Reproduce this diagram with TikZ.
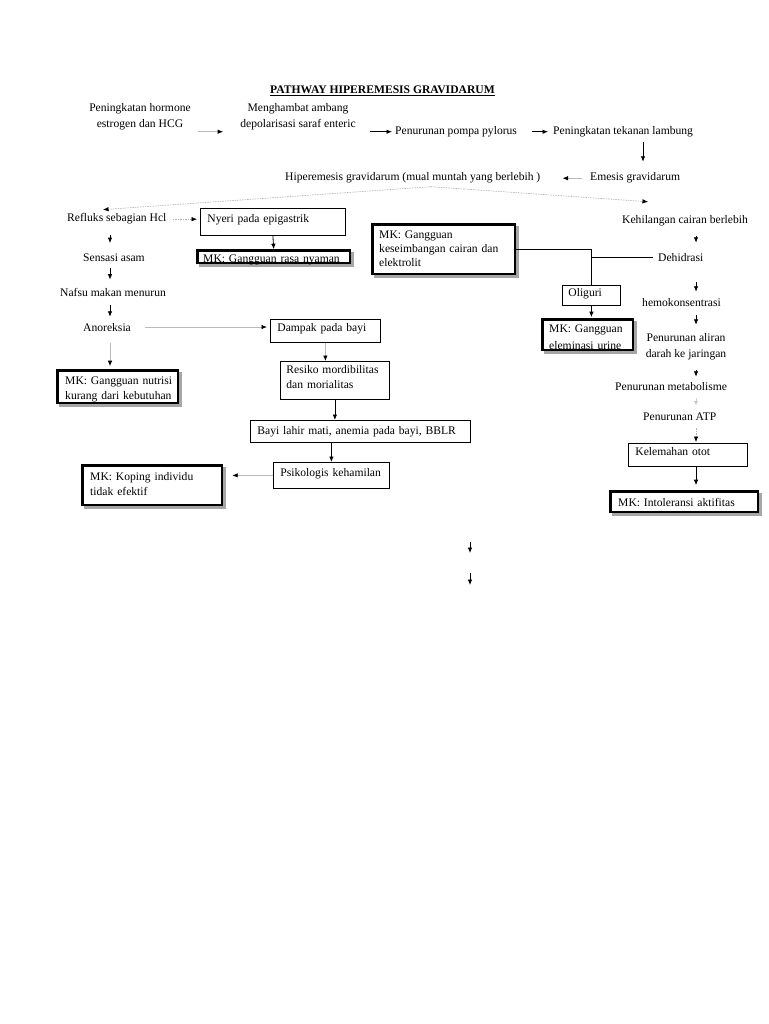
\documentclass[tikz,border=0pt]{standalone}
\usepackage{fontspec}
\setmainfont{Liberation Serif}
\usetikzlibrary{arrows.meta,shadows}
\newcommand{\dgfont}{\fontsize{11.6pt}{15pt}\selectfont}
\newcommand{\dgfontb}{\fontsize{11.6pt}{16.5pt}\selectfont}
\newcommand{\dgfontc}{\fontsize{11.6pt}{14pt}\selectfont}
\newcommand{\dgfontd}{\fontsize{11.6pt}{17pt}\selectfont}
\begin{document}
\begin{tikzpicture}[x=1pt,y=-1pt,
  txt/.style={inner sep=0pt, font=\dgfont},
  mtxt/.style={inner sep=0pt, font=\dgfontb, align=center},
  bx/.style={draw=black, line width=0.8pt, inner ysep=0pt, anchor=north west, align=left, font=\dgfont},
  mk/.style={bx, line width=2.4pt, fill=white,
    drop shadow={shadow xshift=2.6pt, shadow yshift=-2.6pt, fill=gray!70, draw=gray!70, line width=2.4pt, opacity=1}},
  dim/.style n args={4}{text width=#1pt, inner xsep=#2pt, text height=#3pt, text depth=#4pt},
  barr/.style={draw=black, line width=0.8pt, -{Latex[length=5.5pt,width=4.5pt]}},
  garr/.style={draw=gray!55, line width=0.8pt, -{Latex[length=5.5pt,width=4.5pt,color=black]}},
  darr/.style={draw=gray!60, line width=0.6pt, dash pattern=on 1.5pt off 1pt, -{Latex[length=5.5pt,width=4.5pt,color=black]}},
  farr/.style={draw=gray!35, line width=0.6pt, -{Latex[length=4pt,width=4pt,color=gray!45]}},
  conn/.style={draw=black, line width=0.8pt},
]
\fill[white] (0,0) rectangle (768,1024);
\useasboundingbox (0,0) rectangle (768,1024);

% column coordinates
\coordinate (cL) at (110,0);
\coordinate (cR) at (696,0);
\coordinate (cA) at (643,0);

% title
\node[txt, anchor=base west, font=\dgfont\bfseries] (title) at (270,94) {\underline{PATHWAY HIPEREMESIS GRAVIDARUM}};

% top row
\node[mtxt] (t1) at (140,116.5) {Peningkatan hormone\\estrogen dan HCG};
\node[mtxt] (t2) at (298,116.5) {Menghambat ambang\\depolarisasi saraf enteric};
\node[txt, anchor=base west] (t3) at (395,134.5) {Penurunan pompa pylorus};
\node[txt, anchor=base west] (t4) at (553,134.5) {Peningkatan tekanan lambung};
\node[txt, anchor=base west] (t5) at (590,181) {Emesis gravidarum};
\node[txt, anchor=base west] (t6) at (285,181) {Hiperemesis gravidarum (mual muntah yang berlebih )};

% left column
\node[txt, anchor=base west] (refl) at (67,222) {Refluks sebagian Hcl};
\node[txt, anchor=base west] (sens) at (83,261) {Sensasi asam};
\node[txt, anchor=base west] (nafsu) at (60,296) {Nafsu makan menurun};
\node[txt, anchor=base west] (anor) at (83,331) {Anoreksia};

% right column
\node[txt, anchor=base west] (kehil) at (622,224) {Kehilangan cairan berlebih};
\node[txt, anchor=base west] (dehid) at (658,261) {Dehidrasi};
\node[txt, anchor=base west] (hemo) at (642,306) {hemokonsentrasi};
\node[mtxt] (aliran) at (686,346.5) {Penurunan aliran\\darah ke jaringan};
\node[txt, anchor=base west] (metab) at (615,390) {Penurunan metabolisme};
\node[txt, anchor=base west] (atp) at (643,420) {Penurunan ATP};

% thin boxes
\node[bx, dim={131}{7}{14}{13}] (nyeri) at (200,208) {\mbox{Nyeri pada epigastrik}};
\node[bx, dim={96}{7}{12}{11}] (dampak) at (270,319) {\mbox{Dampak pada bayi}};
\node[bx, dim={97}{6}{12}{26}] (resiko) at (280,361) {\mbox{Resiko mordibilitas}\\\mbox{dan morialitas}};
\node[bx, dim={206}{7}{14}{8}] (bayi) at (250,420) {\mbox{Bayi lahir mati, anemia pada bayi, BBLR}};
\node[bx, dim={102}{7}{14}{12}] (psik) at (273,462) {\mbox{Psikologis kehamilan}};
\node[bx, dim={46}{6}{11}{9}] (oliguri) at (562,285) {\mbox{Oliguri}};
\node[bx, dim={105}{7}{12}{11}] (kelem) at (628,443) {\mbox{Kelemahan otot}};

% MK boxes
\node[mk, dim={141}{5.8}{11.8}{0.8}] (mk1) at (196.2,249.2) {\mbox{MK: Gangguan rasa nyaman}};
\node[mk, font=\dgfontc, dim={129}{6.8}{13.8}{35.8}] (mk2) at (371.2,223.2) {\mbox{MK: Gangguan}\\\mbox{keseimbangan cairan dan}\\\mbox{elektrolit}};
\node[mk, dim={105}{7.8}{13.8}{18.8}] (nutr) at (56.2,369.2) {\mbox{MK: Gangguan nutrisi}\\\mbox{kurang dari kebutuhan}};
\node[mk, dim={124}{7.8}{14.8}{24.8}] (koping) at (81.2,464.2) {\mbox{MK: Koping individu}\\\mbox{tidak efektif}};
\node[mk, font=\dgfontd, dim={77}{6.8}{12.8}{17.8}] (elim) at (541.2,318.2) {\mbox{MK: Gangguan}\\\mbox{eleminasi urine}};
\node[mk, dim={132}{7.8}{14.8}{5.8}] (intol) at (609.2,490.2) {\mbox{MK: Intoleransi aktifitas}};

% top row connectors
\draw[garr, shorten <=7pt, shorten >=17pt] (t3.west -| t1.east) -- (t3.west -| t2.west);
\draw[barr, shorten <=14pt, shorten >=3pt] (t3.west -| t2.east) -- (t3.west);
\draw[barr, shorten <=15pt, shorten >=5pt] (t3.east) -- (t4.west);
\draw[barr, shorten <=5pt, shorten >=11pt] (t4.south -| cA) -- (t5.north -| cA);
\draw[garr, shorten <=8pt, shorten >=22pt] (t5.west) -- (t6.east);

% dashed split from hiperemesis
\coordinate (pk) at ([shift={(18,3)}]t6.south);
\draw[darr] (pk) -- ([shift={(36,-4)}]refl.north west);
\draw[darr] (pk) -- ([shift={(26,-14)}]kehil.north west);

% left column connectors
\draw[darr, shorten <=6pt, shorten >=3pt] (refl.east) -- (refl.east -| nyeri.west);
\draw[barr] (nyeri.south) -- (mk1.north);
\draw[barr, shorten <=10.5pt, shorten >=10pt] (refl.south -| cL) -- (sens.north -| cL);
\draw[barr, shorten <=7pt, shorten >=8pt] (sens.south -| cL) -- (nafsu.north -| cL);
\draw[barr, shorten <=9pt, shorten >=6pt] (nafsu.south -| cL) -- (anor.north -| cL);
\draw[garr, shorten <=12pt, shorten >=3pt] (anor.south -| cL) -- (nutr.north -| cL);
\draw[garr, shorten <=14pt, shorten >=3pt] (anor.east) -- (anor.east -| dampak.west);

% middle column connectors
\draw[garr] (dampak.south) -- (dampak.south |- resiko.north);
\draw[barr] (resiko.south) -- (resiko.south |- bayi.north);
\draw[barr] (psik.north |- bayi.south) -- (psik.north);
\draw[garr, shorten >=9pt] (psik.west) -- (psik.west -| koping.east);

% fluid balance connectors
\draw[conn] (mk2.east) -| (oliguri.north);
\draw[conn, shorten <=5pt] (dehid.west) -- (dehid.west -| oliguri.north);
\draw[barr, shorten >=1pt] (oliguri.south) -- (oliguri.south |- elim.north);

% right column connectors
\draw[barr, shorten <=9.5pt, shorten >=10pt] (kehil.south -| cR) -- (dehid.north -| cR);
\draw[barr, shorten <=21pt, shorten >=6pt] (dehid.south -| cR) -- (hemo.north -| cR);
\draw[barr, shorten <=9pt, shorten >=8pt] (hemo.south -| cR) -- (aliran.north -| cR);
\draw[barr, shorten <=10pt, shorten >=5pt] (aliran.south -| cR) -- (metab.north -| cR);
\draw[farr, shorten <=8pt, shorten >=7pt] (metab.south -| cR) -- (atp.north -| cR);
\draw[darr, shorten <=8pt, shorten >=1pt] (atp.south -| cR) -- (kelem.north -| cR);
\draw[barr, shorten >=5pt] (kelem.south -| cR) -- (intol.north -| cR);

% stray arrows
\coordinate (s1a) at (470,542);
\coordinate (s1b) at (470,553);
\coordinate (s2a) at (470,573);
\coordinate (s2b) at (470,585);
\draw[barr] (s1a) -- (s1b);
\draw[barr] (s2a) -- (s2b);
\end{tikzpicture}
\end{document}
